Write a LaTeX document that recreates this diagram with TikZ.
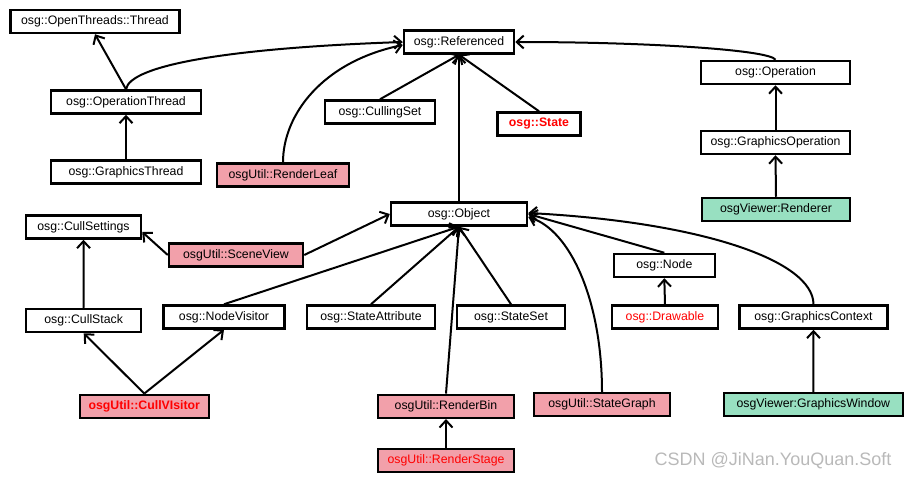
\documentclass[tikz,border=0pt]{standalone}
\usepackage{fontspec}
\setmainfont{Liberation Sans}
\usetikzlibrary{arrows.meta}
\definecolor{pinkfill}{RGB}{242,160,170}
\definecolor{greenfill}{RGB}{152,224,193}
\definecolor{redtext}{RGB}{255,0,0}
\definecolor{wmgray}{RGB}{185,185,185}
\tikzset{
  cls/.style={draw=black, line width=2.5pt, minimum height=23pt, inner sep=0pt,
    font=\fontsize{12.3}{14}\selectfont, fill=white},
  pinkcls/.style={cls, fill=pinkfill},
  greencls/.style={cls, fill=greenfill},
  redtxt/.style={text=redtext},
  boldtxt/.style={font=\fontsize{12.3}{14}\selectfont\bfseries},
  inh/.style={line width=2pt, -{Straight Barb[length=7pt,width=13pt,line width=2pt]}},
}
\begin{document}
\begin{tikzpicture}[x=1pt,y=-1pt]
\useasboundingbox (0,0) rectangle (912,481);
% nodes
\node[cls, minimum width=169pt] (thr) at (95,21.5) {osg::OpenThreads::Thread};
\node[cls, minimum width=150pt] (opth) at (126,102) {osg::OperationThread};
\node[cls, minimum width=150pt] (gth) at (126,172) {osg::GraphicsThread};
\node[pinkcls, minimum width=132pt] (leaf) at (283,175) {osgUtil::RenderLeaf};
\node[cls, minimum width=110pt] (cset) at (380,112) {osg::CullingSet};
\node[cls, minimum width=110pt] (ref) at (459,42) {osg::Referenced};
\node[cls, redtxt, boldtxt, minimum width=83pt] (state) at (539,124) {osg::State};
\node[cls, minimum width=149pt] (oper) at (775.5,72.5) {osg::Operation};
\node[cls, minimum width=149pt] (gop) at (775.5,142.5) {osg::GraphicsOperation};
\node[greencls, minimum width=148pt] (rend) at (776,209.5) {osgViewer:Renderer};
\node[cls, minimum width=136pt] (obj) at (459,214) {osg::Object};
\node[cls, minimum width=115pt] (csett) at (83.5,227) {osg::CullSettings};
\node[pinkcls, minimum width=134pt] (scene) at (236,255) {osgUtil::SceneView};
\node[cls, minimum width=115pt] (cstack) at (83.7,320.5) {osg::CullStack};
\node[cls, minimum width=121pt] (nv) at (224,317) {osg::NodeVisitor};
\node[cls, minimum width=128pt] (sattr) at (371,317) {osg::StateAttribute};
\node[pinkcls, redtxt, boldtxt, minimum width=129pt] (cv) at (144.3,406.3) {osgUtil::CullVIsitor};
\node[pinkcls, minimum width=136pt] (rbin) at (446,406.3) {osgUtil::RenderBin};
\node[pinkcls, redtxt, minimum width=136pt] (rstage) at (446,460.5) {osgUtil::RenderStage};
\node[cls, minimum width=108pt] (sset) at (511,317) {osg::StateSet};
\node[cls, minimum width=101pt] (nodec) at (664.3,265.5) {osg::Node};
\node[cls, redtxt, minimum width=106pt] (drawc) at (665,317) {osg::Drawable};
\node[cls, minimum width=148pt] (gc) at (813.5,317) {osg::GraphicsContext};
\node[pinkcls, minimum width=136pt] (sg) at (602,404.7) {osgUtil::StateGraph};
\node[greencls, minimum width=179pt] (gw) at (813.3,404.7) {osgViewer:GraphicsWindow};
\node[text=wmgray, font=\fontsize{18}{20}\selectfont, inner sep=0pt] (wm) at (773,461) {CSDN @JiNan.YouQuan.Soft};
% connectors
\draw[inh] (opth.north) -- (thr.south);
\draw[inh] (opth.north) .. controls (130,65) and (230,48) .. (ref.west);
\draw[inh] (gth.north) -- (opth.south);
\draw[inh] (leaf.north) .. controls (283,115) and (322,62) .. ([yshift=-3pt]ref.west);
\draw[inh] (cset.north) -- (ref.south);
\draw[inh] (state.north) -- (ref.south);
\draw[inh] (obj.north) -- (ref.south);
\draw[inh] (oper.north) .. controls (770,50) and (650,42) .. (ref.east);
\draw[inh] (gop.north) -- (oper.south);
\draw[inh] (rend.north) -- (gop.south);
\draw[inh] (scene.west) -- ([yshift=-5pt]csett.east);
\draw[inh] (scene.east) -- (obj.west);
\draw[inh] (nv.north) -- (obj.south);
\draw[inh] (sattr.north) -- (obj.south);
\draw[inh] (sset.north) -- (obj.south);
\draw[inh] (rbin.north) -- (obj.south);
\draw[inh] (sg.north) .. controls (602,300) and (570,230) .. ([yshift=-3pt]obj.east);
\draw[inh] (nodec.north) -- (obj.east);
\draw[inh] (gc.north) .. controls (813,260) and (700,222) .. ([yshift=1pt]obj.east);
\draw[inh] (drawc.north) -- (nodec.south);
\draw[inh] (gw.north) -- (gc.south);
\draw[inh] (cstack.north) -- (csett.south);
\draw[inh] (cv.north) -- (cstack.south);
\draw[inh] (cv.north) -- (nv.south);
\draw[inh] (rstage.north) -- (rbin.south);
\end{tikzpicture}
\end{document}
